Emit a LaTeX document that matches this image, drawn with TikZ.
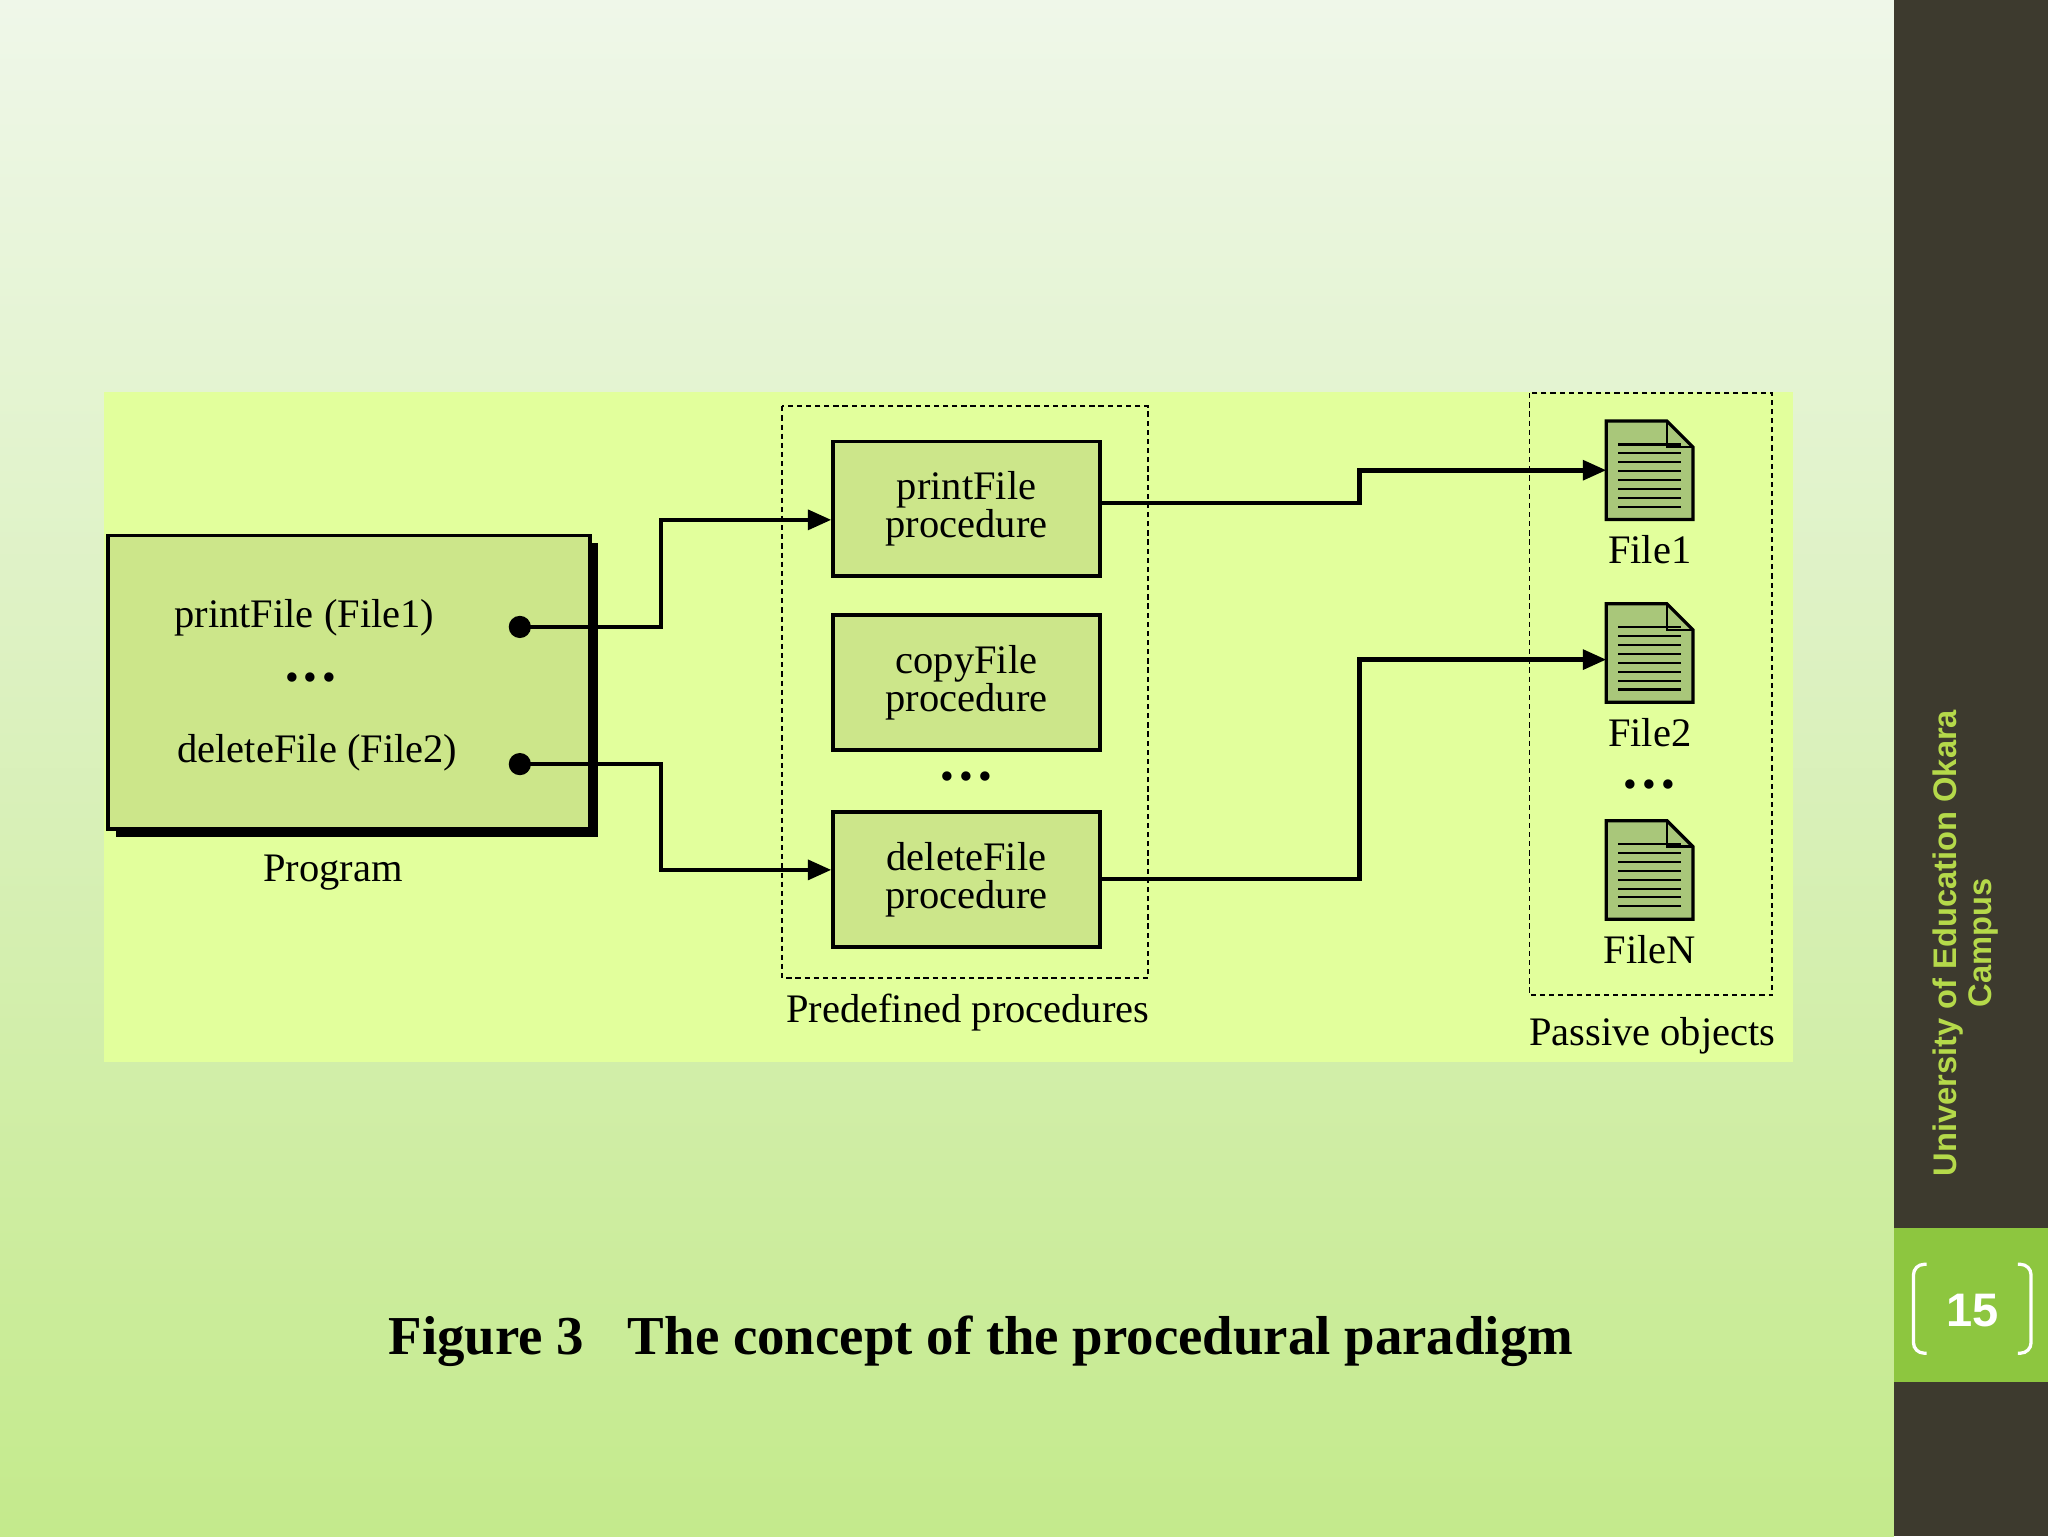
\documentclass[tikz,border=0pt]{standalone}
\usepackage{fontspec}
\setmainfont{Liberation Serif}
\newfontfamily\sidefont{Liberation Sans}
\usetikzlibrary{calc,arrows.meta}
\definecolor{panelbg}{HTML}{E2FF9C}
\definecolor{boxfill}{HTML}{CCE68A}
\definecolor{iconfill}{HTML}{A9C77A}
\definecolor{sidebar}{HTML}{3D3A2E}
\definecolor{sidegreen}{HTML}{8DC63F}
\definecolor{sidetext}{HTML}{B5D94A}
\definecolor{bgtop}{HTML}{EFF7E9}
\definecolor{bgbot}{HTML}{C4EA8C}
\tikzset{
  txt/.style={font=\fontsize{31}{31}\selectfont, align=center},
  dots/.style={font=\fontsize{30}{30}\selectfont, inner sep=0pt},
  proc/.style={draw, line width=3pt, fill=boxfill, minimum width=204pt, minimum height=103pt, txt},
  group/.style={draw, dashed, line width=1.5pt, dash pattern=on 4pt off 3pt},
  fileicon/.style={minimum width=66pt, minimum height=75pt, inner sep=0pt},
  link/.style={line width=3.5pt, -{Triangle[length=18pt,width=15pt]}},
  dot/.style={circle, fill, inner sep=0pt, minimum size=17pt}
}
\newcommand\threedots{\textbullet\hspace{4pt}\textbullet\hspace{4pt}\textbullet}
\begin{document}
\begin{tikzpicture}[x=1pt, y=-1pt]
    \useasboundingbox (0,0) rectangle (1568,1176);
    % Background
    \shade[top color=bgtop, bottom color=bgbot] (0,0) rectangle (1450,1176);
    \fill[sidebar] (1450,0) rectangle (1568,1176);
    \fill[sidegreen] (1450,940) rectangle (1568,1058);
    \draw[white, line width=2.5pt, rounded corners=8pt] (1475,968) -- (1465,968) -- (1465,1036) -- (1475,1036);
    \draw[white, line width=2.5pt, rounded corners=8pt] (1545,968) -- (1555,968) -- (1555,1036) -- (1545,1036);
    \node[white, font=\sidefont\bfseries\fontsize{36}{38}\selectfont] (page) at (1510,1003) {15};
    \node[sidetext, rotate=90, align=center, font=\sidefont\bfseries\fontsize{25}{27}\selectfont] (campus) at (1505,722) {University of Education Okara\\Campus};

    % Panel
    \fill[panelbg] (80,300) rectangle (1373,813);

    % Program
    \fill (89,416) rectangle (458,641);
    \draw[line width=3pt, fill=boxfill] (83,410) rectangle (452,635);
    \node[txt] (call1) at (233,473) {printFile (File1)};
    \node[dots] (pdots) at (238,522) {\threedots};
    \node[txt] (call2) at (243,576) {deleteFile (File2)};
    \node[dot] (b1) at (398,480) {};
    \node[dot] (b2) at (398,585) {};
    \node[txt] (prog) at (255,668) {Program};

    % Predefined procedures
    \draw[group] (599,311) rectangle (879,749);
    \node[proc] (print) at (740,389.5) {printFile\\[-2pt]procedure};
    \node[proc] (copy) at (740,522.5) {copyFile\\[-2pt]procedure};
    \node[dots] (qdots) at (740,598) {\threedots};
    \node[proc] (delete) at (740,673.5) {deleteFile\\[-2pt]procedure};
    \node[txt] (predef) at (741,775) {Predefined procedures};

    % Passive objects
    \draw[group] (1171,301) rectangle (1357,762);
    \foreach \name/\y/\lab in {file1/360/File1, file2/500/File2, fileN/666/FileN} {
        \node[fileicon] (\name) at (1263,\y) {};
        \draw[line width=2.5pt, fill=iconfill] (\name.south west) -- (\name.north west)
            -- ($(\name.north east)+(-20,0)$) -- ($(\name.north east)+(0,20)$) -- (\name.south east) -- cycle;
        \draw[line width=2pt] ($(\name.north east)+(-20,0)$) -- ($(\name.north east)+(-20,20)$) -- ($(\name.north east)+(0,20)$);
        \foreach \k in {0,...,7} {
            \draw[line width=1.6pt] ($(\name.north west)+(9,{18+6.8*\k})$) -- ($(\name.north east)+(-9,{18+6.8*\k})$);
        }
        \node[txt] (\name-lab) at ($(\name)+(0,61)$) {\lab};
    }
    \node[dots] (fdots) at (1263,604) {\threedots};
    \node[txt] (passive) at (1265,793) {Passive objects};

    % Arrows
    \draw[link] (b1.center) -- (506,480) -- (506,398) -- (print.west |- 0,398);
    \draw[link] (b2.center) -- (506,585) -- (506,666) -- (delete.west |- 0,666);
    \draw[link] (print.east |- 0,385) -- (1041,385) -- (1041,360) -- (file1.west);
    \draw[link] (delete.east |- 0,673) -- (1041,673) -- (1041,505) -- (file2.west |- 0,505);

    % Caption
    \node[font=\bfseries\fontsize{42}{44}\selectfont] (caption) at (751,1027) {Figure 3\hspace{0.8em}The concept of the procedural paradigm};
\end{tikzpicture}
\end{document}
